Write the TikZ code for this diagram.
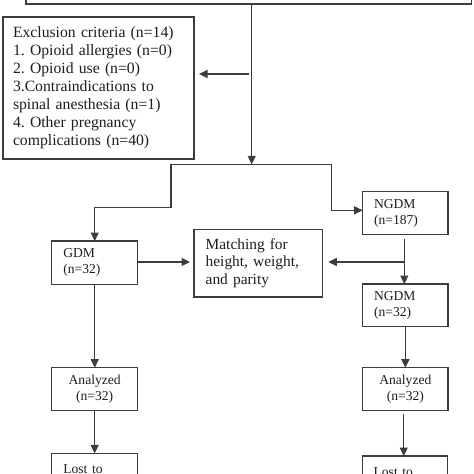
\documentclass[tikz,border=0pt]{standalone}
\usepackage{fontspec}
\setmainfont{Liberation Serif}
\usetikzlibrary{arrows.meta}
\definecolor{linegray}{HTML}{3C3C3C}
\definecolor{textgray}{HTML}{1E1E1E}
\frenchspacing
\begin{document}
\begin{tikzpicture}[x=1pt,y=-1pt,
  box/.style={draw=linegray, line width=1.15pt, rectangle, anchor=north west, inner ysep=0pt, outer sep=0pt, text=textgray},
  big/.style={font=\fontsize{15.7}{18}\selectfont},
  mid/.style={font=\fontsize{15.4}{17.7}\selectfont},
  small/.style={font=\fontsize{13.6}{16}\selectfont},
  arr/.style={draw=linegray, line width=1.15pt, -{Triangle[length=8.5pt,width=8pt]}},
  ln/.style={draw=linegray, line width=1.15pt}]
\useasboundingbox (0,0) rectangle (474,474);
\clip (0,0) rectangle (474,474);
\fill[white] (0,0) rectangle (474,474);
% boxes
\node[box, minimum width=445.7pt, minimum height=40pt] (top) at (26,-36) {};
\node[box, big, minimum height=142pt, text width=171pt, inner xsep=10pt, align=left] (excl) at (3,17)
  {Exclusion criteria (n=14)\\1. Opioid allergies (n=0)\\2. Opioid use (n=0)\\3.Contraindications to\\spinal anesthesia (n=1)\\4. Other pregnancy\\complications (n=40)};
\node[box, small, minimum height=43.3pt, text width=62.8pt, inner xsep=11.6pt, align=left] (gdm) at (51.7,241) {GDM\\(n=32)};
\node[box, mid, minimum height=67.7pt, text width=104.9pt, inner xsep=11.7pt, align=left] (match) at (194,229.3) {Matching for\\height, weight,\\and parity};
\node[box, small, minimum height=42.6pt, text width=62.7pt, inner xsep=11.3pt, align=left] (ngdmA) at (362.7,191.7) {NGDM\\(n=187)};
\node[box, small, minimum height=42.7pt, text width=62.7pt, inner xsep=11.3pt, align=left] (ngdmB) at (362.7,284) {NGDM\\(n=32)};
\node[box, small, minimum height=42.6pt, text width=62.8pt, inner xsep=11.6pt, align=center] (anaL) at (51.7,367.7) {Analyzed\\(n=32)};
\node[box, small, minimum height=42.6pt, text width=62.7pt, inner xsep=11.3pt, align=center] (anaR) at (362.7,367.7) {Analyzed\\(n=32)};
\node[box, small, minimum height=32pt, text width=62.8pt, inner xsep=11.6pt, align=left] (lostL) at (51.7,453.3) {Lost to};
\node[box, small, minimum height=32pt, text width=62.7pt, inner xsep=11.3pt, align=left] (lostR) at (362.3,456) {Lost to};
% coordinates
\coordinate (j) at (251.7,164.3);
\coordinate (jl) at (171,164.3);
\coordinate (jr) at (331.7,164.3);
\coordinate (lbend) at (171,207.7);
\coordinate (rbend) at (331.7,210.3);
\coordinate (ex) at (249,74);
\coordinate (gm) at (137.7,262);
\coordinate (vtop) at (404.3,239.3);
\coordinate (br) at (404.3,262);
\coordinate (lr) at (403.7,414);
% connectors
\draw[arr] (top.south -| j) -- (j);
\draw[arr, shorten >=5pt] (ex) -- (ex -| excl.east);
\draw[ln] (jl) -- (jr);
\draw[arr] (jl) -- (lbend) -- (lbend -| gdm.north) -- (gdm.north);
\draw[arr] (jr) -- (rbend) -- (rbend -| ngdmA.west);
\draw[arr, shorten >=4pt] (gm) -- (gm -| match.west);
\draw[arr] (vtop) -- (vtop |- ngdmB.north);
\draw[arr, shorten >=6pt] (br) -- (br -| match.east);
\draw[arr, line width=1.7pt] (ngdmB.south) -- (anaR.north);
\draw[arr] (gdm.south) -- (anaL.north);
\draw[arr] (anaL.south) -- (lostL.north);
\draw[arr] (lr) -- (lr |- lostR.north);
\end{tikzpicture}
\end{document}
